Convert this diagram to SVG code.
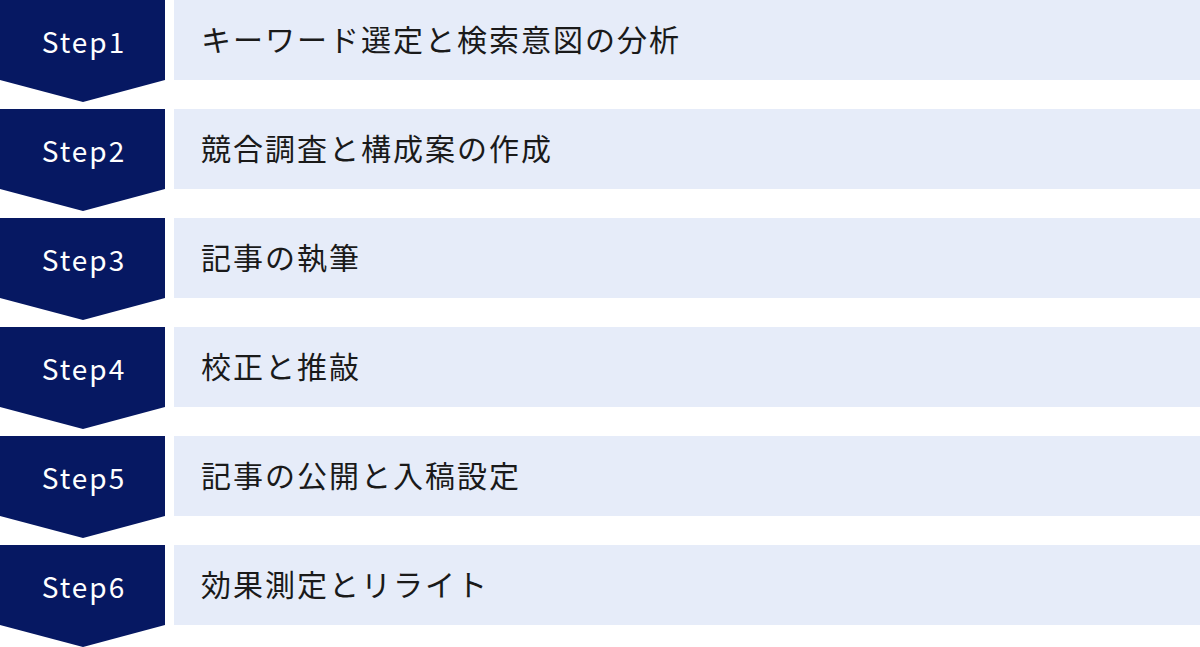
<svg xmlns="http://www.w3.org/2000/svg" width="1200" height="647" viewBox="0 0 1200 647">
<style>
.badge{fill:#061862}
.box{fill:#e6ecf9}
.step{font-family:"Noto Sans CJK JP","Noto Sans",sans-serif;font-size:28px;fill:#ffffff;text-anchor:middle;letter-spacing:2px}
.label{font-family:"Noto Sans CJK JP","Noto Sans",sans-serif;font-size:30px;fill:#1a1a1a;letter-spacing:2px}
</style>
<defs>
<polygon id="chev" points="0,0 165,0 165,80 83,102 0,80"/>
</defs>
<rect width="1200" height="647" fill="#ffffff"/>
<g id="connectors"></g>
<g id="step1" transform="translate(0,0)">
<use href="#chev" class="badge"/>
<rect class="box" x="174" y="0" width="1026" height="80"/>
<text class="step" x="84" y="53">Step1</text>
<text class="label" x="201" y="51">キーワード選定と検索意図の分析</text>
</g>
<g id="step2" transform="translate(0,109)">
<use href="#chev" class="badge"/>
<rect class="box" x="174" y="0" width="1026" height="80"/>
<text class="step" x="84" y="53">Step2</text>
<text class="label" x="201" y="51">競合調査と構成案の作成</text>
</g>
<g id="step3" transform="translate(0,218)">
<use href="#chev" class="badge"/>
<rect class="box" x="174" y="0" width="1026" height="80"/>
<text class="step" x="84" y="53">Step3</text>
<text class="label" x="201" y="51">記事の執筆</text>
</g>
<g id="step4" transform="translate(0,327)">
<use href="#chev" class="badge"/>
<rect class="box" x="174" y="0" width="1026" height="80"/>
<text class="step" x="84" y="53">Step4</text>
<text class="label" x="201" y="51">校正と推敲</text>
</g>
<g id="step5" transform="translate(0,436)">
<use href="#chev" class="badge"/>
<rect class="box" x="174" y="0" width="1026" height="80"/>
<text class="step" x="84" y="53">Step5</text>
<text class="label" x="201" y="51">記事の公開と入稿設定</text>
</g>
<g id="step6" transform="translate(0,545)">
<use href="#chev" class="badge"/>
<rect class="box" x="174" y="0" width="1026" height="80"/>
<text class="step" x="84" y="53">Step6</text>
<text class="label" x="201" y="51">効果測定とリライト</text>
</g>
</svg>
